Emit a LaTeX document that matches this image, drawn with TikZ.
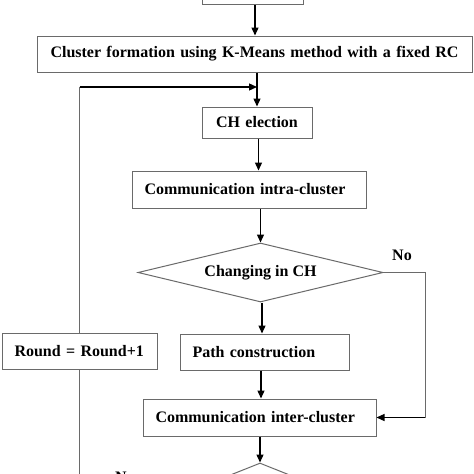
\documentclass[tikz,border=0pt]{standalone}
\usepackage{fontspec}
\setmainfont{Liberation Serif}
\usetikzlibrary{shapes.geometric,arrows.meta,calc}
\definecolor{boxgray}{HTML}{6A6A6A}
\begin{document}
\begin{tikzpicture}[x=1pt,y=-1pt,
  txt/.style={font=\bfseries\fontsize{16}{19}\selectfont},
  box/.style={txt,draw=boxgray,line width=1pt,rectangle,inner xsep=12.5pt,inner ysep=0pt,align=left,minimum height=36pt},
  dec/.style={txt,draw=boxgray,line width=1pt,diamond,inner sep=0pt},
  arr/.style={draw=black,line width=1.3pt,-{Triangle[length=8pt,width=7pt]}},
  link/.style={draw=boxgray,line width=1pt},
  lbl/.style={txt,inner sep=0pt}]
\useasboundingbox (0,0) rectangle (474,474);
\clip (0,0) rectangle (474,474);
\fill[white] (0,0) rectangle (474,474);

\node[box,minimum width=101pt,minimum height=30pt] (start) at (252.5,-10.5) {};
\node[box,align=center,text width=410pt] (cluster) at (254.5,54) {Cluster formation using K-Means method with a fixed RC};
\node[box,align=center,text width=85pt,minimum height=31pt] (ch) at (257,122.5) {CH election};
\node[box,text width=209pt,minimum height=37pt] (intra) at (249,189.5) {Communication intra-cluster};
\node[dec,aspect=4.15,minimum width=245pt,minimum height=59pt] (d1) at (260.5,272.5) {Changing in CH};
\node[box,text width=144pt] (path) at (264.5,352) {Path construction};
\node[box,text width=208pt,minimum height=37pt] (inter) at (259.5,417.5) {Communication inter-cluster};
\node[box,text width=130pt] (round) at (79.5,351) {Round = Round+1};
\node[dec,aspect=2.5,minimum width=150pt,minimum height=60pt] (d2) at (260,493) {};

\node[lbl] (no1) at (402,255) {No};
\node[lbl] (no2) at (125,477.4) {No};

\coordinate (nr) at (425,417.5);
\coordinate (fbc) at (79.5,87);
\coordinate (fb) at (257,87);

\draw[arr] ([xshift=2.5pt]start.south) -- ([xshift=2.5pt]start.south |- cluster.north);
\draw[arr] (cluster.south -| ch.north) -- (ch.north);
\draw[arr] ([xshift=1.5pt]ch.south) -- ([xshift=1.5pt]ch.south |- intra.north);
\draw[arr] (d1.north |- intra.south) -- (d1.north);
\draw[arr] ([xshift=1.5pt]d1.south) -- ([xshift=1.5pt]d1.south |- path.north);
\draw[arr] ([xshift=-3.5pt]path.south) -- ([xshift=-3.5pt]path.south |- inter.north);
\draw[arr] (d2.north |- inter.south) -- (d2.north);

\draw[link] (d1.east) -| (nr);
\draw[arr] (nr) -- (inter.east);

\draw[link] (round.north) -- (fbc);
\draw[arr] (fbc) -- (fb);
\draw[link] (d2.west) -| (round.south);
\end{tikzpicture}
\end{document}
